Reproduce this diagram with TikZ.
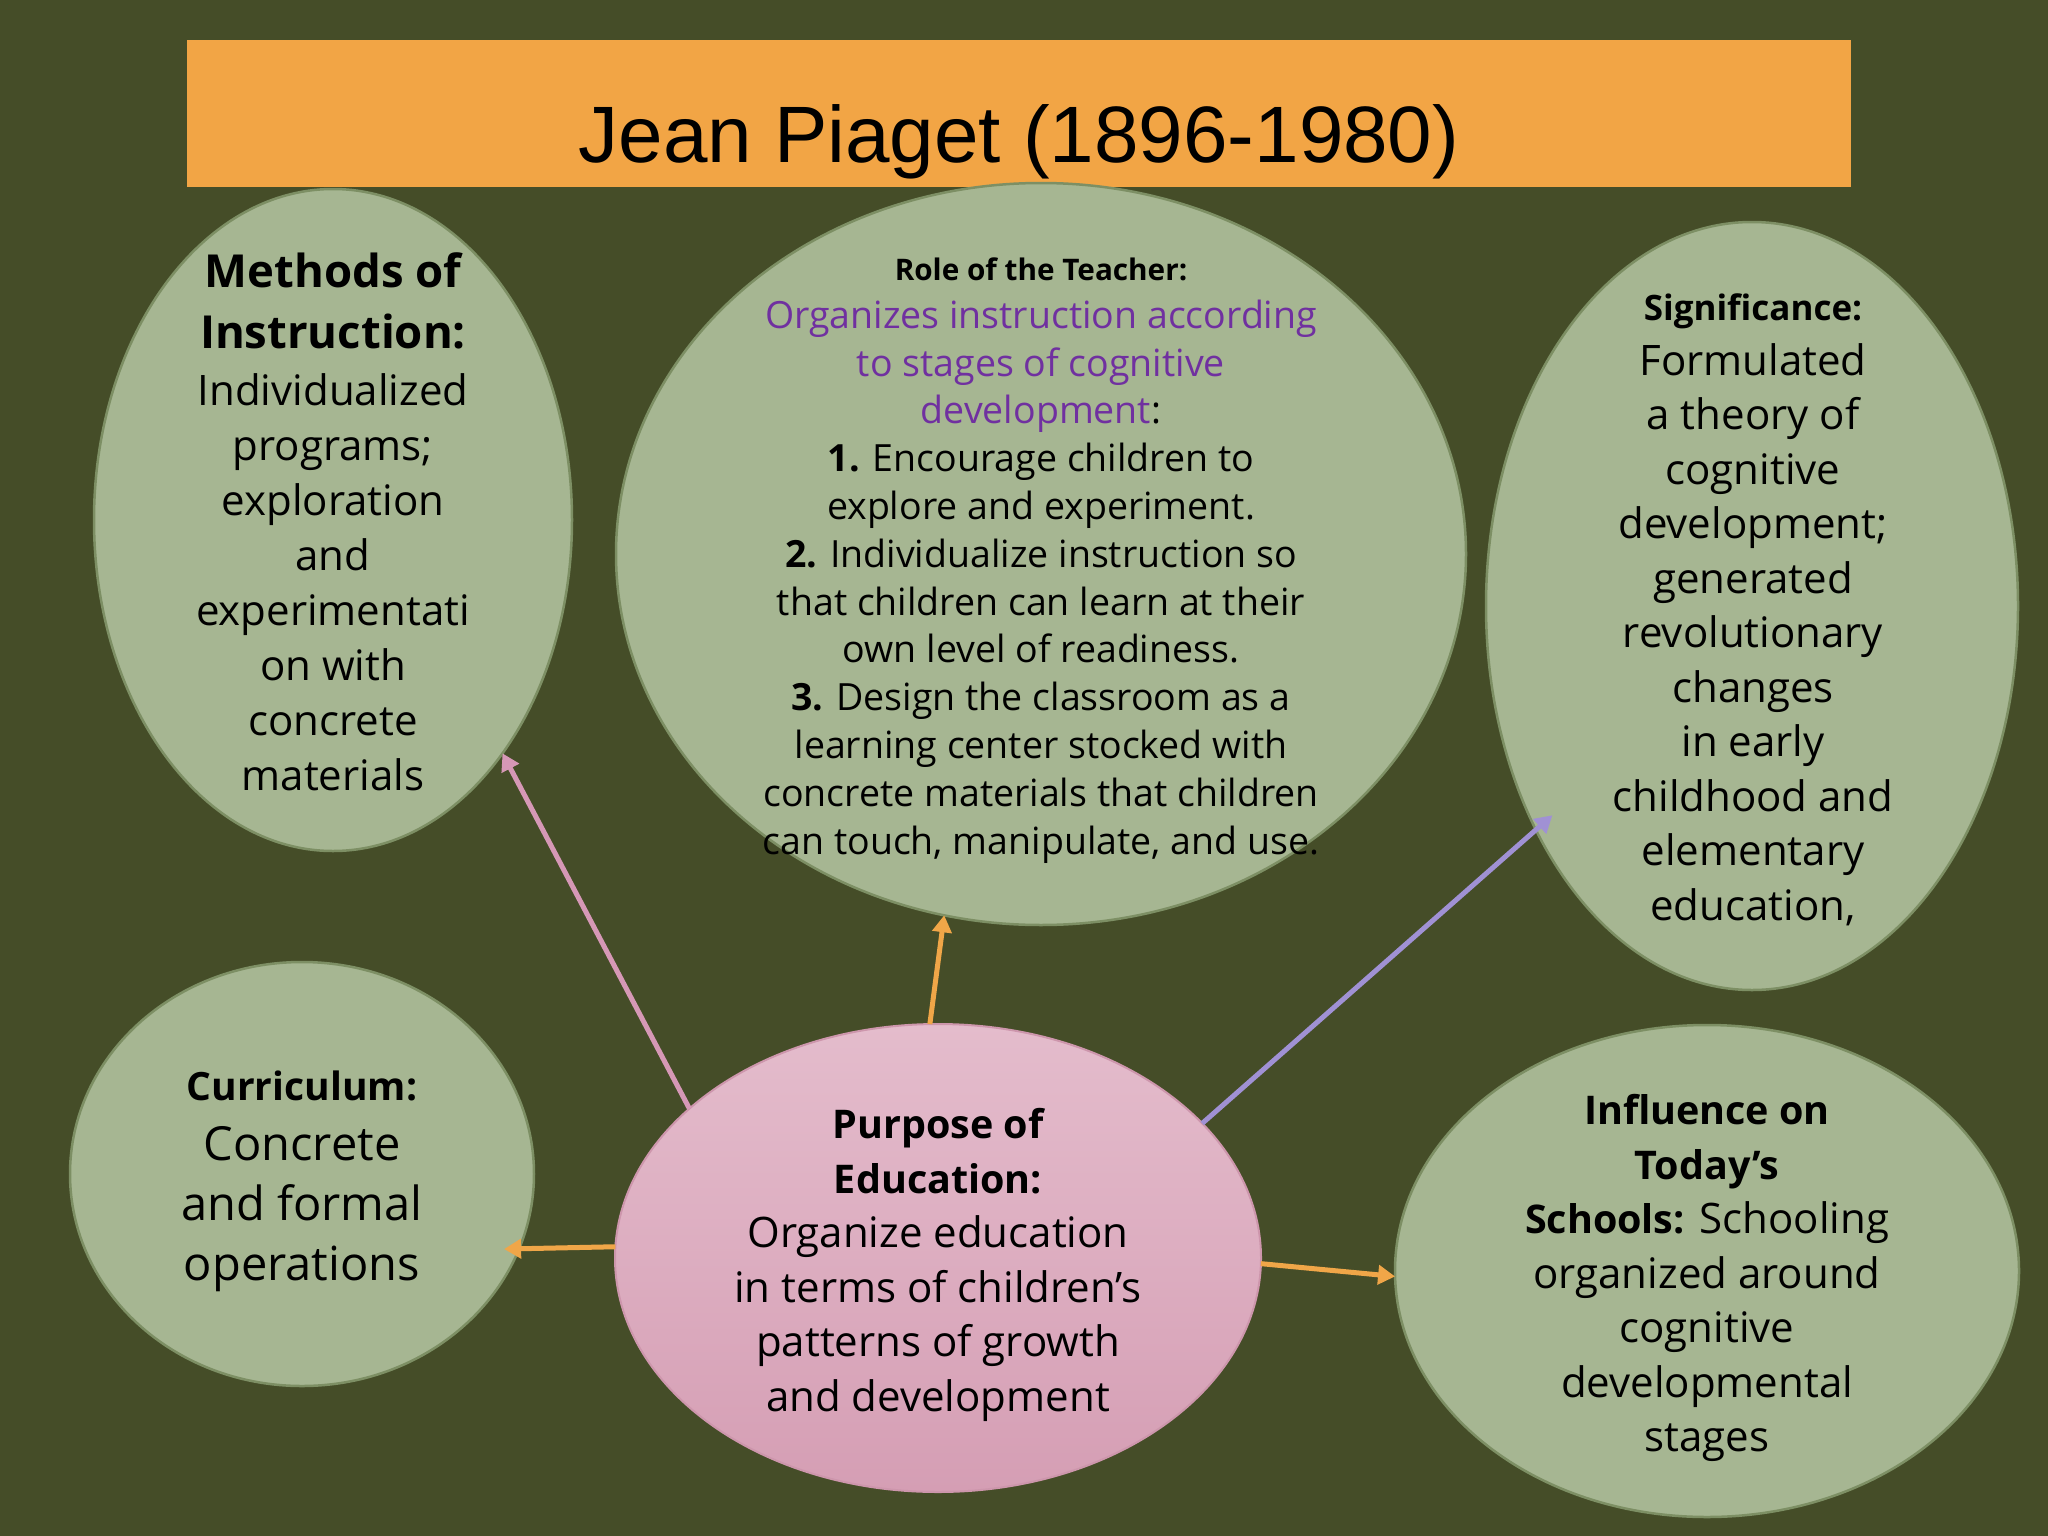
\documentclass[tikz,border=0pt]{standalone}
\usepackage{fontspec}
\setmainfont{Open Sans}
\newfontfamily\titlefont{Liberation Sans}
\usetikzlibrary{shapes.geometric,arrows.meta}
\definecolor{bgolive}{RGB}{69,77,40}
\definecolor{barorange}{RGB}{242,165,69}
\definecolor{ellgreen}{RGB}{166,182,146}
\definecolor{ellborder}{RGB}{125,143,100}
\definecolor{pinktop}{RGB}{228,188,204}
\definecolor{pinkbottom}{RGB}{213,158,180}
\definecolor{pinkborder}{RGB}{205,150,172}
\definecolor{orangearrow}{RGB}{240,166,72}
\definecolor{pinkarrow}{RGB}{214,152,182}
\definecolor{purplearrow}{RGB}{160,145,212}
\definecolor{purpletext}{RGB}{112,48,160}
\begin{document}
\begin{tikzpicture}[x=1pt,y=-1pt,
  greenell/.style={ellipse, draw=ellborder, line width=2.5pt, fill=ellgreen, inner sep=0pt, outer sep=0pt},
  pinkell/.style={ellipse, draw=pinkborder, line width=2pt, top color=pinktop, bottom color=pinkbottom, inner sep=0pt, outer sep=0pt},
  txt/.style={align=center, text=black, inner sep=0pt},
  conn/.style={line width=5pt, -{Triangle[length=17pt,width=19pt]}}]
\useasboundingbox[fill=bgolive] (0,0) rectangle (2048,1536);
% title bar
\node[fill=barorange, minimum width=1664pt, minimum height=147pt, anchor=north west, inner sep=0pt] (bar) at (187,40) {};
\node[font=\titlefont\fontsize{80}{96}\selectfont, anchor=base, inner sep=0pt] (title) at (1019,162) {Jean Piaget (1896-1980)};
% ellipses
\node[greenell, minimum width=478pt, minimum height=662pt] (meth) at (333,520) {};
\node[greenell, minimum width=850pt, minimum height=742pt] (role) at (1041,554) {};
\node[greenell, minimum width=532pt, minimum height=768pt] (sig) at (1752,606) {};
\node[greenell, minimum width=464pt, minimum height=424pt] (curr) at (302,1174) {};
\node[pinkell, minimum width=646pt, minimum height=468pt] (purp) at (938,1258) {};
\node[greenell, minimum width=624pt, minimum height=492pt] (infl) at (1707,1271) {};
% texts
\node[txt, font=\fontsize{42}{55}\selectfont] (methT) at (333,522) {%
{\fontsize{45.5}{55}\selectfont\bfseries Methods of}\\[6pt]
{\fontsize{45.5}{55}\selectfont\bfseries Instruction:}\\[2pt]
Individualized\\ programs;\\ exploration\\ and\\ experimentati\\ on with\\ concrete\\ materials};
\node[txt, font=\fontsize{37.5}{47.8}\selectfont] (roleT) at (1041,560.5) {%
{\fontsize{29.7}{47.8}\selectfont\bfseries Role of the Teacher:}\\
\textcolor{purpletext}{Organizes instruction according}\\
\textcolor{purpletext}{to stages of cognitive}\\
\textcolor{purpletext}{development}:\\
\textbf{1.} Encourage children to\\
explore and experiment.\\
\textbf{2.} Individualize instruction so\\
that children can learn at their\\
own level of readiness.\\
\textbf{3.} Design the classroom as a\\
learning center stocked with\\
concrete materials that children\\
can touch, manipulate, and use.};
\node[txt, font=\fontsize{42}{54.5}\selectfont] (sigT) at (1753,610) {%
{\fontsize{35}{54.5}\selectfont\bfseries Significance:}\\
Formulated\\ a theory of\\ cognitive\\ development;\\ generated\\ revolutionary\\ changes\\ in early\\ childhood and\\ elementary\\ education,};
\node[txt, font=\fontsize{47}{60}\selectfont] (currT) at (302,1181) {%
{\fontsize{39}{60}\selectfont\bfseries Curriculum:}\\
Concrete\\ and formal\\ operations};
\node[txt, font=\fontsize{42}{54.6}\selectfont] (purpT) at (938,1265) {%
{\fontsize{39.5}{54.6}\selectfont\bfseries Purpose of}\\
{\fontsize{39.5}{54.6}\selectfont\bfseries Education:}\\
Organize education\\ in terms of children’s\\ patterns of growth\\ and development};
\node[txt, font=\fontsize{42}{54.5}\selectfont] (inflT) at (1707,1278) {%
{\fontsize{39.5}{54.5}\selectfont\bfseries Influence on}\\
{\fontsize{39.5}{54.5}\selectfont\bfseries Today’s}\\
{\fontsize{39.5}{54.5}\selectfont\bfseries Schools:} Schooling\\
organized around\\ cognitive\\ developmental\\ stages};
% connectors
\draw[conn, pinkarrow] (purp.149.5) -- (meth.-54);
\draw[conn, orangearrow] (purp.92.9) -- (role.-105.5);
\draw[conn, purplearrow, shorten >=-22pt] (purp.27.8) -- (sig.-134.6);
\draw[conn, orangearrow, shorten >=-15pt] (purp.178) -- (curr.-19.7);
\draw[conn, orangearrow] (purp.-1.4) -- (infl.181);
\end{tikzpicture}
\end{document}
